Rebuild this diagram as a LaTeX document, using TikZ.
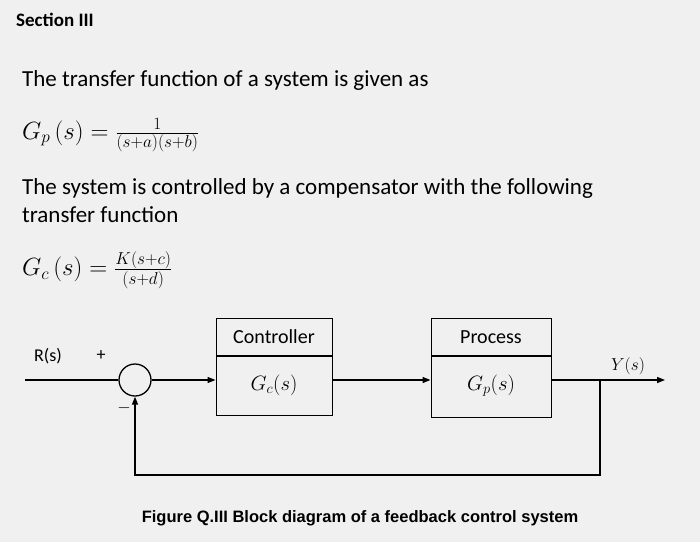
\documentclass[tikz,border=0pt]{standalone}
\usepackage{fontspec}
\setmainfont{Carlito}
\newfontfamily\capfont{Liberation Sans}
\usetikzlibrary{arrows.meta}
\begin{document}
\begin{tikzpicture}[x=1pt,y=-1pt,
  txt/.style={anchor=west,inner sep=0pt,font=\fontsize{23}{25}\selectfont},
  mth/.style={anchor=west,inner sep=0pt,font=\fontsize{25}{27}\selectfont},
  blk/.style={draw,line width=1pt,minimum width=116pt,minimum height=38pt,inner sep=0pt,font=\fontsize{20}{22}\selectfont},
  wire/.style={line width=1.3pt},
  arr/.style={wire,-{Triangle[length=8pt,width=6pt]}}]
\useasboundingbox[fill=gray!12] (0,0) rectangle (700,542);
\node[txt,font=\bfseries\fontsize{19}{21}\selectfont] (sec) at (16,20) {Section III};
\node[txt] (t1) at (22,80) {The transfer function of a system is given as};
\node[mth] (gp) at (22,135) {$G_p\,(s)=\frac{1}{(s+a)(s+b)}$};
\node[txt] (t2) at (22,188) {The system is controlled by a compensator with the following};
\node[txt] (t3) at (22,215) {transfer function};
\node[mth] (gc) at (22,270) {$G_c\,(s)=\frac{K(s+c)}{(s+d)}$};
% blocks
\node[blk] (ch) at (274,337) {Controller};
\node[blk,minimum height=60pt,font=\fontsize{22}{24}\selectfont] (cb) at (274,385) {$G_c(s)$};
\node[blk,minimum width=120pt] (ph) at (491,337) {Process};
\node[blk,minimum width=120pt,minimum height=62pt,font=\fontsize{22}{24}\selectfont] (pb) at (491,386) {$G_p(s)$};
\node[draw,circle,line width=1.3pt,minimum size=32pt,inner sep=0pt] (sum) at (135,380) {};
\coordinate (in) at (25,380);
\coordinate (out) at (665,380);
\coordinate (tap) at (600,380);
\coordinate (c1) at (600,475);
\coordinate (c2) at (135,475);
\draw[wire] (in) -- (sum.west);
\draw[arr] (sum.east) -- (cb.west|-sum.east);
\draw[arr] (cb.east|-sum) -- (pb.west|-sum);
\draw[arr] (pb.east|-sum) -- (out);
\draw[arr] (tap) -- (c1) -- (c2) -- (sum.south);
\node[font=\fontsize{18}{20}\selectfont] (r) at (48,356) {R(s)};
\node[font=\fontsize{18}{20}\selectfont] (pl) at (101,356) {+};
\node[font=\fontsize{16}{18}\selectfont] (mi) at (124,408) {$-$};
\node[font=\fontsize{18}{20}\selectfont] (y) at (628,366) {$Y(s)$};
\node[font=\capfont\bfseries\fontsize{16.5}{18}\selectfont] (cap) at (360,518) {Figure Q.III Block diagram of a feedback control system};
\end{tikzpicture}
\end{document}
